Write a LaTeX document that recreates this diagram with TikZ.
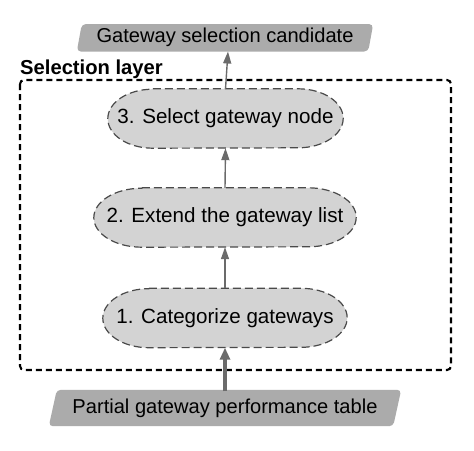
\documentclass[tikz,border=0pt]{standalone}
\usepackage{fontspec}
\setmainfont{Liberation Sans}
\usetikzlibrary{arrows.meta,backgrounds}
\definecolor{paragray}{HTML}{ABABAB}
\definecolor{ovalgray}{HTML}{D3D3D3}
\definecolor{edgegray}{HTML}{4A4A4A}
\definecolor{arrowgray}{HTML}{6B6B6B}
\tikzset{
  lbl/.style={font=\fontsize{20.6}{24}\selectfont, inner sep=0pt, text=black},
  ovalnode/.style={lbl, minimum width=#1, minimum height=59pt},
  ovalline/.style={draw=edgegray, fill=ovalgray, line width=1.2pt, dash pattern=on 8pt off 4pt},
  paranode/.style={lbl, font=\fontsize{20.1}{24}\selectfont},
  parafill/.style={fill=paragray, rounded corners=4pt},
  layerbox/.style={draw=black, line width=2.1pt, dash pattern=on 6pt off 4pt, rounded corners=4pt},
  layerlabel/.style={font=\fontsize{20.2}{24}\selectfont\bfseries, inner sep=0pt, anchor=base west},
  thinarrow/.style={draw=arrowgray, line width=1.4pt, -{Triangle[length=12pt,width=8pt]}},
  thickarrow/.style={draw=arrowgray, line width=3.2pt, -{Triangle[length=12pt,width=10pt]}},
}
% oval with elliptical ends around a node: name, end radius
\newcommand\ovalaround[2]{%
  \path[ovalline] ([xshift=#2]#1.north west) -- ([xshift=-#2]#1.north east)
    arc[start angle=90,end angle=-90,x radius=#2,y radius=29.5pt]
    -- ([xshift=#2]#1.south west)
    arc[start angle=270,end angle=90,x radius=#2,y radius=29.5pt] -- cycle;}
\newcommand\paraaround[2]{%
  \path[parafill] ([xshift=#2]#1.north west) -- (#1.north east)
    -- ([xshift=-#2]#1.south east) -- (#1.south west) -- cycle;}
\begin{document}
\begin{tikzpicture}[x=1pt,y=-1pt]
\useasboundingbox (0,0) rectangle (474,450);
% layer box
\draw[layerbox] (20,80) rectangle (451,370);
\node[layerlabel] (layer) at (20,74) {Selection layer};
% steps
\node[ovalnode=235pt] (s3) at (225.5,118.5) {3. Select gateway node};
\node[ovalnode=262pt] (s2) at (225,217.5) {2. Extend the gateway list};
\node[ovalnode=244pt] (s1) at (225,318) {1. Categorize gateways};
% input / output
\node[paranode, minimum width=296pt, minimum height=27pt] (out) at (225,37.8) {Gateway selection candidate};
\node[paranode, minimum width=352pt, minimum height=36pt] (in) at (225,408) {Partial gateway performance table};
\begin{pgfonlayer}{background}
  \ovalaround{s3}{45pt}
  \ovalaround{s2}{48pt}
  \ovalaround{s1}{46pt}
  \paraaround{out}{5pt}
  \paraaround{in}{8pt}
\end{pgfonlayer}
% connectors
\draw[thinarrow] (s1.north) -- (s2.south);
\draw[thinarrow] (s2.north) -- (s3.south);
\draw[thinarrow] (s3.north) -- ([xshift=3pt]out.south);
\draw[thickarrow] ([yshift=-1.5pt]in.north) -- (s1.south);
\end{tikzpicture}
\end{document}
